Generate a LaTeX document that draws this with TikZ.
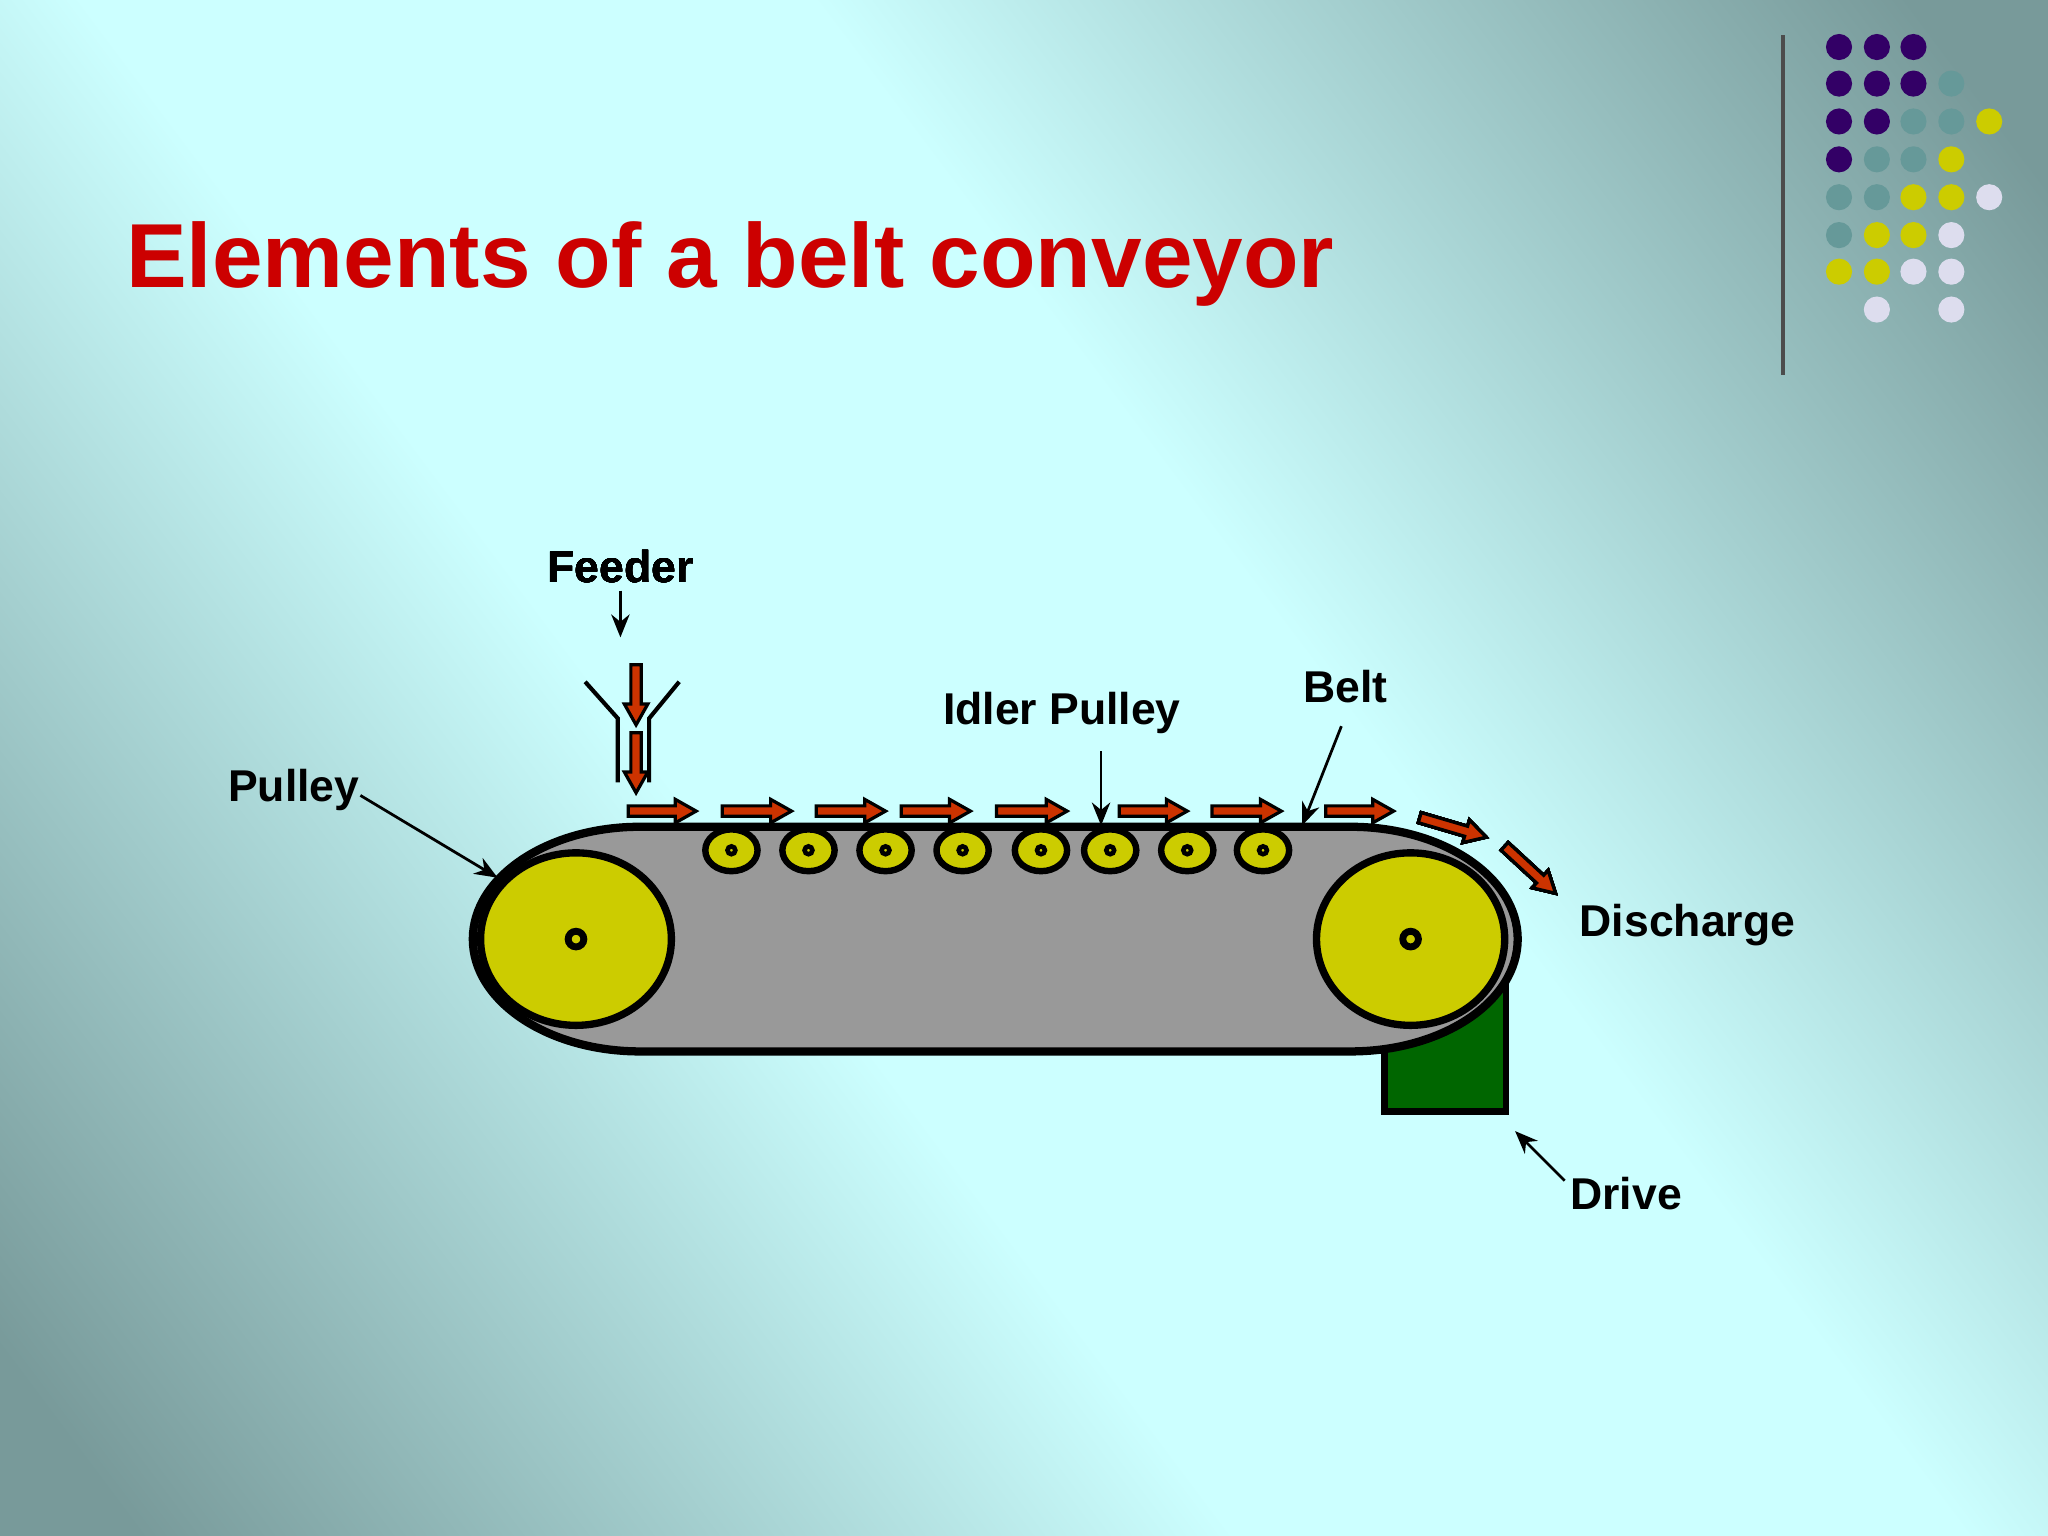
\documentclass[tikz,border=0pt]{standalone}
\usepackage{fontspec}
\setmainfont{Liberation Sans}
\usetikzlibrary{shapes.geometric,arrows.meta,shadings}
\definecolor{lightbg}{HTML}{CCFFFF}
\definecolor{darkbg}{HTML}{789A9A}
\definecolor{ttl}{HTML}{CC0000}
\definecolor{pur}{HTML}{330066}
\definecolor{tea}{HTML}{669999}
\definecolor{yel}{HTML}{CCCC00}
\definecolor{wht}{HTML}{DDDDEE}
\definecolor{beltgray}{HTML}{999999}
\definecolor{drv}{HTML}{006600}
\definecolor{arr}{HTML}{CC3300}
\pgfdeclareverticalshading{bgsh}{100bp}{color(0bp)=(darkbg); color(18bp)=(darkbg); color(42bp)=(lightbg); color(58bp)=(lightbg); color(82bp)=(darkbg); color(100bp)=(darkbg)}
\newcommand\rarr[4]{%
  \begin{scope}[shift={(#1,#2)}, rotate=#3]
  \filldraw[fill=arr, draw=black, line width=0.7pt, line join=miter]
    (0,-4) -- ({#4-16},-4) -- ({#4-16},-9) -- (#4,0) -- ({#4-16},9) -- ({#4-16},4) -- (0,4) -- cycle;
  \end{scope}}
\begin{document}
\begin{tikzpicture}[x=0.01cm,y=-0.01cm,
  lbl/.style={font=\bfseries\fontsize{9.7pt}{11pt}\selectfont, inner sep=0pt},
  ptr/.style={-{Stealth[length=5pt,width=4pt]}, line width=0.6pt},
  dot/.style={circle, inner sep=0pt, minimum size=0.2cm}]
\useasboundingbox (0,0) rectangle (1568,1176);
\begin{scope}[x=0.01cm,y=0.01cm]
\shade[shading=bgsh, shading angle=-53.1] (0,-1176) rectangle (1568,0);
\end{scope}
\node[anchor=base west, inner sep=0pt, text=ttl, font=\bfseries\fontsize{19.8pt}{24pt}\selectfont] (title) at (96,220) {Elements of a belt conveyor};
\draw[line width=0.8pt, black!70] (1365,27) -- (1365,287);
% dot grid
\foreach \x/\y/\c in {1408/36/pur,1437/36/pur,1465/36/pur,
 1408/64/pur,1437/64/pur,1465/64/pur,1494/64/tea,
 1408/93/pur,1437/93/pur,1465/93/tea,1494/93/tea,1523/93/yel,
 1408/122/pur,1437/122/tea,1465/122/tea,1494/122/yel,
 1408/151/tea,1437/151/tea,1465/151/yel,1494/151/yel,1523/151/wht,
 1408/180/tea,1437/180/yel,1465/180/yel,1494/180/wht,
 1408/208/yel,1437/208/yel,1465/208/wht,1494/208/wht,
 1437/237/wht,1494/237/wht}
 \node[dot, fill=\c] at (\x,\y) {};
% drive
\draw[fill=drv, line width=1.5pt] (1060,740) rectangle (1153,851);
% belt
\draw[fill=beltgray, line width=1.8pt] (490,633) -- (1034,633) arc[start angle=-90, end angle=90, x radius=128, y radius=86] -- (490,805) arc[start angle=90, end angle=270, x radius=128, y radius=86] -- cycle;
% pulleys
\node[ellipse, draw, fill=yel, line width=1.6pt, minimum width=1.46cm, minimum height=1.32cm, inner sep=0pt] (lp) at (441,719) {};
\node[ellipse, draw, fill=yel, line width=1.6pt, minimum width=1.44cm, minimum height=1.32cm, inner sep=0pt] (rp) at (1080,719) {};
\draw[line width=1.5pt] (441,719) circle[radius=6];
\draw[line width=1.5pt] (1080,719) circle[radius=6];
% idlers
\foreach \x [count=\i] in {560,619,678,737,797,850,909,967}{
  \draw[fill=yel, line width=1.4pt] (\x,651) ellipse[x radius=20, y radius=16];
  \draw[line width=1pt] (\x,651) circle[radius=3];
}
% feeder hopper
\draw[line width=0.9pt] (448,522) -- (473,550) -- (473,599);
\draw[line width=0.9pt] (520,522) -- (497,550) -- (497,599);
% red arrows
\rarr{487}{509}{-90}{46}
\rarr{487}{561}{-90}{46}
\foreach \a/\b in {481/533,553/606,625/678,690/743,763/817,857/909,928/981,1015/1067}
  \rarr{\a}{621}{0}{\b-\a}
\rarr{1087}{626}{-16.4}{53}
\rarr{1152}{648}{-42.7}{53}
% labels
\node[lbl] (feeder) at (475,434) {Feeder};
\node[lbl] (idler) at (813,546) {Idler Pulley};
\node[lbl] (belt) at (1030,526) {Belt};
\node[lbl] (pulley) at (225,605) {Pulley};
\node[lbl] (disch) at (1292,708) {Discharge};
\node[lbl] (drive) at (1245,914) {Drive};
\coordinate (fe) at (475,488);
\coordinate (be) at (997,632);
\coordinate (pe) at (381,672);
\coordinate (de) at (1160,866);
\coordinate (is) at (843,575);
\coordinate (ie) at (843,632);
\draw[ptr] (feeder.south) ++(0,5) -- (fe);
\draw[ptr] (is) -- (ie);
\draw[ptr] (1027,556) -- (be);
\draw[ptr] (pulley.east) ++(0,4) -- (pe);
\draw[ptr] (1198,904) -- (de);
\end{tikzpicture}
\end{document}
